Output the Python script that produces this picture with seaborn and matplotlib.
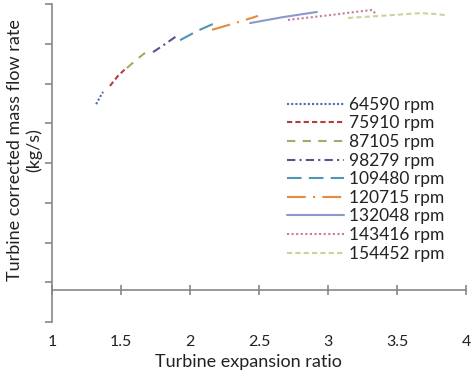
import matplotlib
matplotlib.use("Agg")
import matplotlib.pyplot as plt
import seaborn as sns
import pandas as pd

# turbine speed lines (y in arbitrary units, axis has no labels)
speeds = ["64590 rpm", "75910 rpm", "87105 rpm", "98279 rpm", "109480 rpm",
          "120715 rpm", "132048 rpm", "143416 rpm", "154452 rpm"]

x_64590 = [1.32, 1.345, 1.37]
y_64590 = [5.48, 5.64, 5.79]
x_75910 = [1.42, 1.478, 1.529]
y_75910 = [5.94, 6.19, 6.36]
x_87105 = [1.543, 1.609, 1.674]
y_87105 = [6.39, 6.59, 6.77]
x_98279 = [1.732, 1.819, 1.913]
y_98279 = [6.79, 6.99, 7.22]
x_109480 = [1.928, 2.051, 2.181]
y_109480 = [7.09, 7.32, 7.52]
x_120715 = [2.159, 2.326, 2.493]
y_120715 = [7.35, 7.52, 7.70]
x_132048 = [2.435, 2.674, 2.920]
y_132048 = [7.52, 7.67, 7.80]
x_143416 = [2.71, 3.014, 3.196, 3.319, 3.341]
y_143416 = [7.60, 7.72, 7.80, 7.85, 7.77]
x_154452 = [3.145, 3.377, 3.667, 3.775, 3.848]
y_154452 = [7.65, 7.70, 7.77, 7.75, 7.72]

xs = [x_64590, x_75910, x_87105, x_98279, x_109480, x_120715, x_132048, x_143416, x_154452]
ys = [y_64590, y_75910, y_87105, y_98279, y_109480, y_120715, y_132048, y_143416, y_154452]

colors = ["#4F6FA8", "#B43E3E", "#9BB065", "#5E4F92", "#4F96B4", "#E58B3C",
          "#8C9ACB", "#C47E93", "#C9D3A0"]
styles = [(0, (1, 1)), (0, (2.5, 1.5)), (0, (4, 3.5)), (0, (4, 2, 1, 2)),
          (0, (7, 3.5)), (0, (9, 3.5, 1, 3.5)), "-", (0, (1, 1.2)), (0, (2.5, 1.5))]

sns.set_theme(style="white")
plt.rcParams["font.family"] = ["Lato", "DejaVu Sans"]

fig = plt.figure(figsize=(4.74, 3.76), dpi=100)
ax = fig.add_axes([52 / 474, 1 - 322 / 376, 414 / 474, 318 / 376])

for name, x, y, c, ls in zip(speeds, xs, ys, colors, styles):
    df = pd.DataFrame({"ratio": x, "flow": y})
    sns.lineplot(data=df, x="ratio", y="flow", color=c, linestyle=ls,
                 linewidth=1.5, label=name, ax=ax, sort=False)

ax.set_xlim(1, 4)
ax.set_ylim(0, 8)
ax.set_xticks([1, 1.5, 2, 2.5, 3, 3.5, 4])
ax.set_xticklabels(["1", "1.5", "2", "2.5", "3", "3.5", "4"])
ax.set_yticks(range(0, 9))
ax.set_yticklabels([])
ax.set_xlabel("")
ax.set_ylabel("")

gray = "#878787"
for s in ["top", "right"]:
    ax.spines[s].set_visible(False)
ax.spines["bottom"].set_position(("data", 0.8))
ax.spines["left"].set_position(("data", 1))
for s in ["bottom", "left"]:
    ax.spines[s].set_color(gray)
    ax.spines[s].set_linewidth(1.2)

ax.tick_params(axis="y", direction="out", length=5, width=1.2, color=gray, left=True)
ax.tick_params(axis="x", direction="inout", length=7, width=1.2, color=gray,
               bottom=True, pad=29, labelsize=11.5, labelcolor="#222222")

leg = ax.legend(loc="upper left", bbox_to_anchor=(0.552, 0.73), frameon=False,
                fontsize=12.5, handlelength=3.23, handletextpad=0.3,
                labelspacing=0.15, borderaxespad=0)
for t in leg.get_texts():
    t.set_color("#222222")

fig.text(25 / 474, 1 - 150 / 376, "Turbine corrected mass flow rate\n(kg/s)",
         rotation=90, ha="center", va="center", fontsize=13,
         multialignment="center", color="#222222", linespacing=1.2)
fig.text(248 / 474, 1 - 362 / 376, "Turbine expansion ratio",
         ha="center", va="center", fontsize=13, color="#222222")

fig.savefig("out.png", dpi=100)
